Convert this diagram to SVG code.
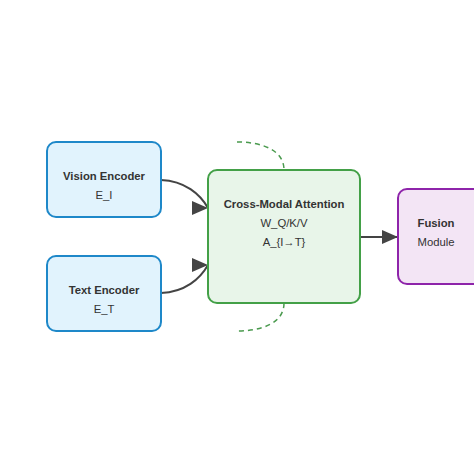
<svg xmlns="http://www.w3.org/2000/svg" width="474" height="474" viewBox="0 0 474 474">
<defs>
<style>
.t{font-family:"Liberation Sans",Arial,sans-serif;font-size:11.3px;fill:#333;text-anchor:middle}
.b{font-weight:bold}
.edge{fill:none;stroke:#444;stroke-width:2}
.dash{fill:none;stroke:#4a9a4e;stroke-width:1.5;stroke-dasharray:5,4}
.enc{fill:#e1f3fd;stroke:#1e88c9;stroke-width:2}
</style>
<marker id="ah" viewBox="0 0 16 14" refX="16" refY="7" markerWidth="16" markerHeight="14" markerUnits="userSpaceOnUse" orient="0">
<path d="M0,0 L16,7 L0,14 Z" fill="#444"/>
</marker>
<marker id="ah2" viewBox="0 0 16 14" refX="16" refY="7" markerWidth="16" markerHeight="14" markerUnits="userSpaceOnUse" orient="auto">
<path d="M0,0 L16,7 L0,14 Z" fill="#444"/>
</marker>
</defs>
<rect width="474" height="474" fill="#ffffff"/>
<g id="connectors">
<path class="edge" d="M161,180 C185,181 200,194 208,208" marker-end="url(#ah)"/>
<path class="edge" d="M161,293 C185,292 200,279 208,265" marker-end="url(#ah)"/>
<path class="edge" d="M360,237 L398,237" marker-end="url(#ah2)"/>
<path class="dash" d="M237,142 C262,142 284,150 284,170"/>
<path class="dash" d="M284,303 C284,323 262,331 237,331"/>
</g>
<g id="vision-encoder">
<rect class="enc" x="47" y="142" width="114" height="75" rx="9"/>
<text class="t b" x="104" y="180">Vision Encoder</text>
<text class="t" x="104" y="199">E_I</text>
</g>
<g id="text-encoder">
<rect class="enc" x="47" y="256" width="114" height="75" rx="9"/>
<text class="t b" x="104" y="294">Text Encoder</text>
<text class="t" x="104" y="313">E_T</text>
</g>
<g id="cross-modal-attention">
<rect x="208" y="170" width="152" height="133" rx="9" fill="#e8f5e9" stroke="#43a047" stroke-width="2"/>
<text class="t b" x="284" y="208">Cross-Modal Attention</text>
<text class="t" x="284" y="227">W_Q/K/V</text>
<text class="t" x="284" y="246">A_{I→T}</text>
</g>
<g id="fusion-module">
<rect x="398" y="189" width="90" height="95" rx="9" fill="#f3e5f5" stroke="#8e24aa" stroke-width="2"/>
<text class="t b" x="436" y="227">Fusion</text>
<text class="t" x="436" y="246">Module</text>
</g>
</svg>
